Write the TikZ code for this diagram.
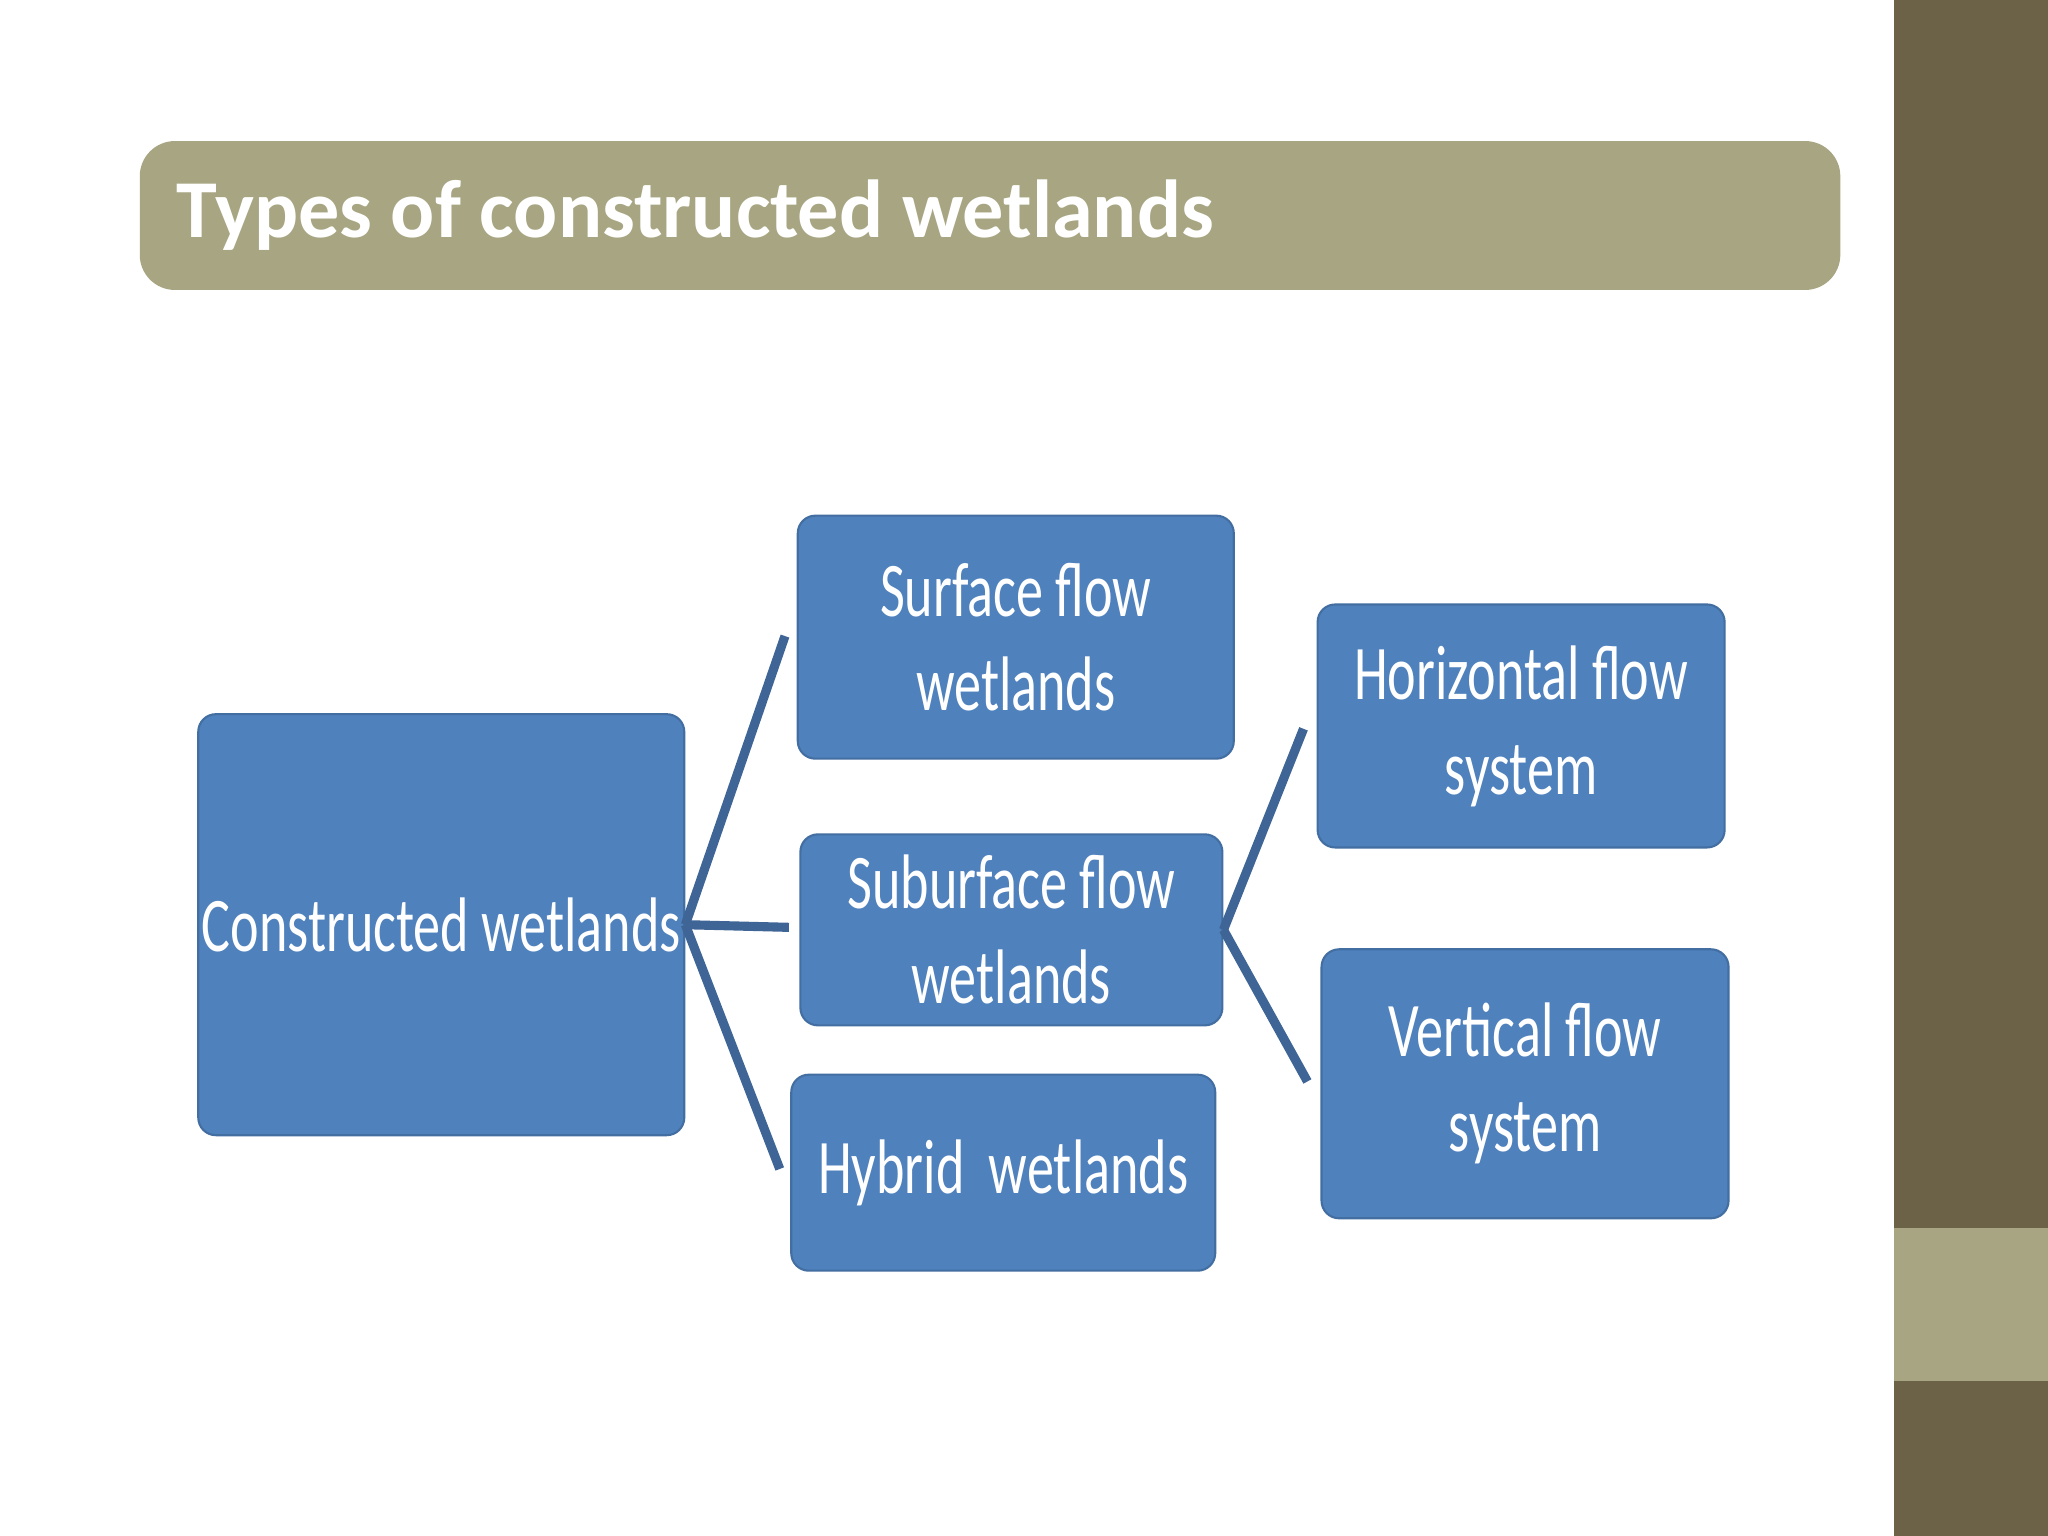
\documentclass[tikz,border=0pt]{standalone}
\usepackage{fontspec}
\setmainfont{Carlito}
\newfontfamily\boxfont[FakeStretch=0.7]{Carlito}
\usetikzlibrary{positioning}
\definecolor{olive}{HTML}{6B6248}
\definecolor{sand}{HTML}{A8A682}
\definecolor{boxblue}{HTML}{4F81BD}
\definecolor{linkblue}{HTML}{3F6596}
\tikzset{
  wbox/.style={draw=boxblue!85!black, line width=0.6pt, fill=boxblue, rounded corners=5pt, text=white,
    font=\boxfont\fontsize{22}{27}\selectfont, align=center, anchor=north west, inner sep=0pt},
  link/.style={linkblue, line width=2.6pt}
}
\begin{document}
\begin{tikzpicture}[x=0.013061cm, y=-0.013061cm]
    % Page and side bar
    \useasboundingbox (0,0) rectangle (1568,1176);
    \fill[white] (0,0) rectangle (1568,1176);
    \fill[olive] (1450,0) rectangle (1568,1176);
    \fill[sand] (1450,940) rectangle (1568,1057);

    % Title
    \fill[sand, rounded corners=10pt] (107,108) rectangle (1409,222);
    \node[anchor=west, text=white, font=\bfseries\fontsize{23.4}{28}\selectfont] (title) at (126,165) {Types of constructed wetlands};

    % Boxes
    \node[wbox, minimum width=4.86cm, minimum height=4.21cm] (cw) at (151,546) {Constructed wetlands};
    \node[wbox, minimum width=4.36cm, minimum height=2.43cm] (sf) at (610,394) {Surface flow\\wetlands};
    \node[wbox, minimum width=4.22cm, minimum height=1.91cm] (ssf) at (612,638) {Suburface flow\\wetlands};
    \node[wbox, minimum width=4.24cm, minimum height=1.96cm] (hw) at (605,822) {Hybrid\ \ wetlands};
    \node[wbox, minimum width=4.07cm, minimum height=2.43cm] (hf) at (1008,462) {Horizontal flow\\system};
    \node[wbox, minimum width=4.07cm, minimum height=2.69cm] (vf) at (1011,726) {Vertical flow\\system};

    % Link ends
    \coordinate (a1) at (601,487);
    \coordinate (a2) at (604,710);
    \coordinate (a3) at (597,895);
    \coordinate (b1) at (998,558);
    \coordinate (b2) at (1001,828);

    % Links
    \draw[link] (cw.east) -- (a1);
    \draw[link] (cw.east) -- (a2);
    \draw[link] (cw.east) -- (a3);
    \draw[link] (ssf.east) -- (b1);
    \draw[link] (ssf.east) -- (b2);
\end{tikzpicture}
\end{document}
